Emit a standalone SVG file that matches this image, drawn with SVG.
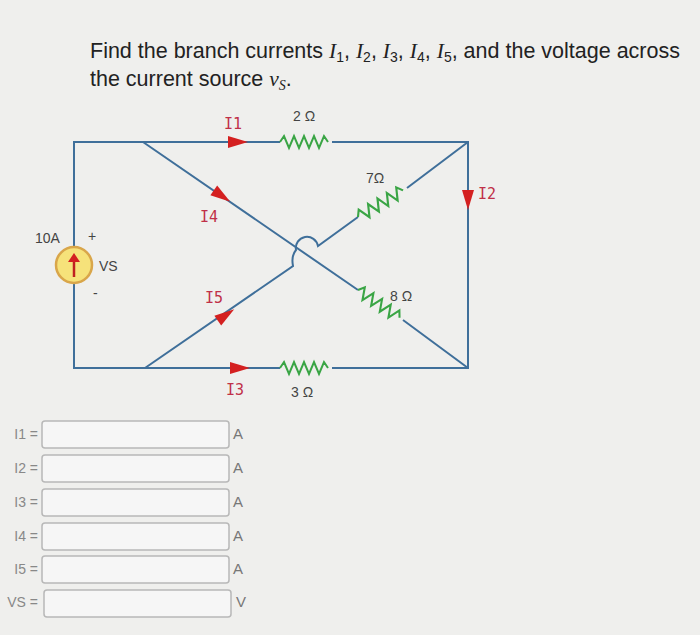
<svg xmlns="http://www.w3.org/2000/svg" width="700" height="635" viewBox="0 0 700 635">
<style>
.w{fill:none;stroke:#3f6f9a;stroke-width:2}
.r{fill:none;stroke:#3aa545;stroke-width:2;stroke-linejoin:miter}
.lab{font-family:"DejaVu Sans Mono",monospace;font-size:15px;fill:#c03048}
.val{font-family:"Liberation Sans",sans-serif;font-size:14px;fill:#444}
.t{font-family:"Liberation Sans",sans-serif;font-size:21.5px;fill:#222}
.f{font-family:"Liberation Sans",sans-serif;font-size:14px;fill:#888;text-anchor:end}
.u{font-family:"Liberation Sans",sans-serif;font-size:15px;fill:#777}
.box{fill:#f6f6f6;stroke:#b8b8b8;stroke-width:1.5}
.ar{fill:#d42020}
</style>
<defs>
<path id="zz" class="r" d="M0,0 l4,-6 l5,12 l5,-12 l5,12 l5,-12 l5,12 l5,-12 l5,12 l5,-12 l4,6"/>
<path id="tri" class="ar" d="M-10,-6 L10,0 L-10,6 Z"/>
</defs>
<rect width="700" height="635" fill="#efefed"/>
<g id="title">
<text class="t" x="90" y="58">Find the branch currents <tspan font-family="Liberation Serif" font-style="italic">I</tspan><tspan font-size="14" dy="4">1</tspan><tspan dy="-4">, </tspan><tspan font-family="Liberation Serif" font-style="italic">I</tspan><tspan font-size="14" dy="4">2</tspan><tspan dy="-4">, </tspan><tspan font-family="Liberation Serif" font-style="italic">I</tspan><tspan font-size="14" dy="4">3</tspan><tspan dy="-4">, </tspan><tspan font-family="Liberation Serif" font-style="italic">I</tspan><tspan font-size="14" dy="4">4</tspan><tspan dy="-4">, </tspan><tspan font-family="Liberation Serif" font-style="italic">I</tspan><tspan font-size="14" dy="4">5</tspan><tspan dy="-4">, and the voltage across</tspan></text>
<text class="t" x="90" y="86">the current source <tspan font-family="Liberation Serif" font-style="italic">v</tspan><tspan font-family="Liberation Serif" font-style="italic" font-size="14" dy="4">S</tspan><tspan dy="-4">.</tspan></text>
</g>
<g id="connectors">
<path class="w" d="M74,247 V142 H280 M332,142 H468 V368 H332 M280,368 H74 V283"/>
<path class="w" d="M143,142 L358,290 M403,320 L468,368"/>
<path class="w" d="M145,368 L293,266 Q291,256 296,250 A11,11 0 0 1 318,246 L358,217 M407,188 L468,142"/>
</g>
<g id="R2"><use href="#zz" x="280" y="142"/><text class="val" x="293" y="121">2 Ω</text></g>
<g id="R3"><use href="#zz" x="280" y="368"/><text class="val" x="291" y="397">3 Ω</text></g>
<g id="R7"><use href="#zz" transform="translate(358,217) rotate(-30.6) scale(1.09,1)"/><text class="val" x="366" y="183">7Ω</text></g>
<g id="R8"><use href="#zz" transform="translate(358,290) rotate(33.7) scale(1.04,1)"/><text class="val" x="390" y="301">8 Ω</text></g>
<g id="source">
<circle cx="74" cy="265" r="18" fill="#f6e27a" stroke="#d9a64a" stroke-width="2.5"/>
<path d="M74,277 V258" stroke="#c02020" stroke-width="2.5"/><path class="ar" d="M68,262 L74,253 L80,262 Z"/>
<text class="val" x="35" y="243" font-family="DejaVu Sans Mono" font-size="14">10A</text>
<text class="val" x="88" y="241">+</text>
<text class="val" x="99" y="271">VS</text>
<text class="val" x="93" y="298">-</text>
</g>
<g id="arrows">
<use href="#tri" transform="translate(238,142)"/><text class="lab" x="224" y="129">I1</text>
<use href="#tri" transform="translate(240,368)"/><text class="lab" x="226" y="395">I3</text>
<use href="#tri" transform="translate(468,200) rotate(90)"/><text class="lab" x="478" y="199">I2</text>
<use href="#tri" transform="translate(222,196) rotate(34.5)"/><text class="lab" x="200" y="222">I4</text>
<use href="#tri" transform="translate(226,315) rotate(-34.6)"/><text class="lab" x="205" y="303">I5</text>
</g>
<g id="answers">
<text class="f" x="38" y="439">I1 =</text><rect class="box" x="42" y="421" width="187" height="27" rx="3"/><text class="u" x="233" y="439">A</text>
<text class="f" x="38" y="473">I2 =</text><rect class="box" x="42" y="455" width="187" height="27" rx="3"/><text class="u" x="233" y="473">A</text>
<text class="f" x="38" y="507">I3 =</text><rect class="box" x="42" y="489" width="187" height="27" rx="3"/><text class="u" x="233" y="507">A</text>
<text class="f" x="38" y="541">I4 =</text><rect class="box" x="42" y="523" width="187" height="27" rx="3"/><text class="u" x="233" y="541">A</text>
<text class="f" x="38" y="574">I5 =</text><rect class="box" x="42" y="556" width="187" height="27" rx="3"/><text class="u" x="233" y="574">A</text>
<text class="f" x="38" y="607">VS =</text><rect class="box" x="44" y="590" width="187" height="27" rx="3"/><text class="u" x="236" y="607">V</text>
</g>
</svg>
